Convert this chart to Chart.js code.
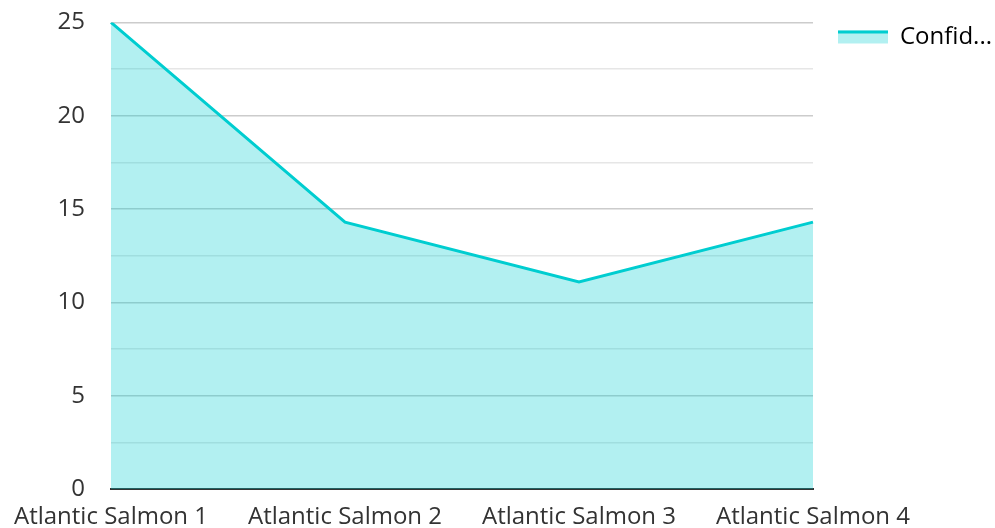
<!DOCTYPE html>
<html>
<head>
<meta charset="utf-8">
<script src="https://cdn.jsdelivr.net/npm/chart.js@4"></script>
<style>
  html, body { margin: 0; padding: 0; background: #fff; }
  #wrap { width: 995px; height: 528px; }
</style>
</head>
<body>
<div id="wrap"><canvas id="chart"></canvas></div>
<script>
// data
const categories = ['Atlantic Salmon 1', 'Atlantic Salmon 2', 'Atlantic Salmon 3', 'Atlantic Salmon 4'];
const confidence = [25, 14.3, 11.1, 14.3];
const seriesLabel = 'Confid...';

const LINE = '#00cdd0';
const FILL = 'rgba(0, 205, 208, 0.3)';
const TEXT = '#333333';

Chart.defaults.font.family = '"Open Sans", sans-serif';
Chart.defaults.font.size = 24;
Chart.defaults.color = TEXT;

// fixed legend width + swatch with a thick teal top edge
const legendTweaks = {
  id: 'legendTweaks',
  afterInit(chart) {
    const lg = chart.legend;
    const fit = lg.fit.bind(lg);
    lg.fit = function () { fit(); this.width = 182; };
  },
  afterDraw(chart) {
    const boxes = chart.legend?.legendHitBoxes || [];
    const { ctx } = chart;
    const o = chart.legend.options.labels;
    boxes.forEach(b => {
      const top = b.top + (b.height - o.boxHeight) / 2;
      ctx.save();
      ctx.fillStyle = LINE;
      ctx.fillRect(b.left, top, o.boxWidth, 3);
      ctx.restore();
    });
  }
};

new Chart(document.getElementById('chart'), {
  type: 'line',
  data: {
    labels: categories,
    datasets: [{
      label: seriesLabel,
      data: confidence,
      borderColor: LINE,
      backgroundColor: FILL,
      fill: 'origin',
      borderWidth: 3,
      tension: 0,
      pointRadius: 0,
    }]
  },
  options: {
    responsive: true,
    maintainAspectRatio: false,
    animation: false,
    layout: { padding: 0 },
    plugins: {
      tooltip: { enabled: false },
      legend: {
        position: 'right',
        align: 'start',
        labels: {
          boxWidth: 50,
          boxHeight: 13,
          padding: 25,
          color: TEXT,
          generateLabels: () => [{
            text: seriesLabel,
            fillStyle: FILL,
            strokeStyle: FILL,
            lineWidth: 0,
            datasetIndex: 0,
          }]
        }
      }
    },
    scales: {
      x: {
        offset: false,
        grid: { display: false },
        border: { display: true, color: TEXT, width: 2 },
        ticks: { color: TEXT, maxRotation: 0, autoSkip: false, padding: 6 },
        afterFit: (s) => { s.height = 39; }
      },
      y: {
        min: 0,
        max: 25,
        ticks: {
          stepSize: 2.5,
          color: TEXT,
          padding: 8,
          callback: (v) => (v % 5 === 0 ? v : '')
        },
        grid: {
          drawTicks: true,
          tickLength: 18,
          tickColor: 'rgba(0,0,0,0)',
          color: (c) => (c.tick && c.tick.value % 5 === 0 ? '#cccccc' : '#e6e6e6'),
          lineWidth: 1.5
        },
        border: { display: false },
        afterFit: (s) => { s.width = 111; }
      }
    }
  },
  plugins: [legendTweaks]
});
</script>
</body>
</html>
